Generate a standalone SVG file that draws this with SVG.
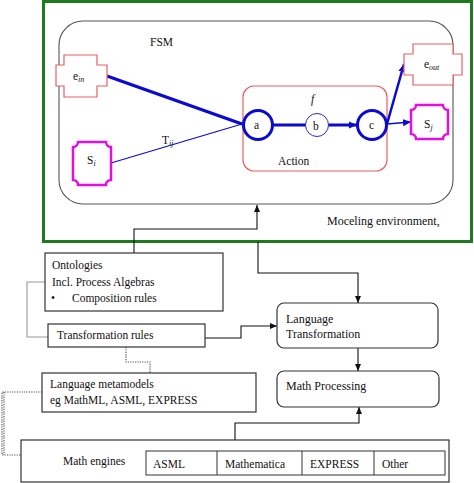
<svg xmlns="http://www.w3.org/2000/svg" width="474" height="483" viewBox="0 0 474 483">
<defs>
<style>
text{font-family:"Liberation Serif","Times New Roman",serif;fill:#111;font-size:11.5px}
.t12{font-size:12px}
.box{fill:#fff;stroke:#333;stroke-width:1.2}
.red{fill:#fff;stroke:#e86060;stroke-width:1.2}
.mag{fill:#fff;stroke:#e010e0;stroke-width:2.5}
.blue{fill:none;stroke:#0a0ad0}
.conn{fill:none;stroke:#111;stroke-width:1.1}
.dot{fill:none;stroke:#555;stroke-width:1.2;stroke-dasharray:1.2 1.2}
.sub{font-size:8px;font-style:italic}
</style>
<marker id="ab" markerUnits="userSpaceOnUse" markerWidth="8" markerHeight="8" refX="7" refY="4" orient="auto"><path d="M0,1 L7,4 L0,7 Z" fill="#111"/></marker>
<marker id="bb" markerUnits="userSpaceOnUse" markerWidth="10" markerHeight="10" refX="8" refY="5" orient="auto"><path d="M0,1.5 L8,5 L0,8.5 Z" fill="#0a0ad0"/></marker>
</defs>
<rect x="43.5" y="1.5" width="428" height="240" fill="#fff" stroke="#1f7a1f" stroke-width="3"/>
<g id="fsm"><rect x="59" y="21" width="394" height="183" rx="24" fill="none" stroke="#555" stroke-width="1.1"/><text x="150" y="46">FSM</text></g>
<g id="action"><rect x="243" y="86" width="144" height="85" rx="11" class="red"/><text x="311" y="103" font-style="italic">f</text><text x="278" y="165">Action</text></g>
<g id="connectors">
<path class="blue" stroke-width="3" d="M107,76 L242,124"/>
<path class="blue" stroke-width="1.2" stroke="#3535e0" d="M111,163 L242,124"/>
<path class="blue" stroke-width="3" d="M272,125 H306"/>
<path class="blue" stroke-width="3" d="M328,125 H357" marker-end="url(#bb)"/>
<path class="blue" stroke-width="2.5" d="M387,124 L404,64" marker-end="url(#bb)"/>
<path class="blue" stroke-width="1.5" d="M387,124 L411,122" marker-end="url(#bb)"/>
<path class="conn" d="M134,253 V229 H257 V205" marker-end="url(#ab)"/>
<path class="conn" d="M258,242 V273 H358 V303" marker-end="url(#ab)"/>
<path class="conn" d="M205,338 H241 V326 H277" marker-end="url(#ab)"/>
<path class="conn" d="M358,348 V371" marker-end="url(#ab)"/>
<path class="conn" d="M235,440 V423 H359 V407" marker-end="url(#ab)"/>
<path fill="none" stroke="#999" stroke-width="1.1" d="M45,282 H27 V337 H48"/>
<path class="dot" d="M126,347 V362 H150 V373"/>
<path class="dot" d="M42,392 H2 V455 H21"/>
<path class="dot" d="M4,392 V455"/>
</g>
<text x="162" y="144">T<tspan class="sub" dy="2">ij</tspan></text>
<g id="e_in"><path class="red" d="M64,55 H97 V65 H107 V86 H97 V97 H64 V86 H56 V65 H64 Z"/><text x="73" y="80" font-size="10.5">e<tspan class="sub" dy="2">in</tspan></text></g>
<g id="s_i"><path class="mag" d="M78,142 H106 A5,5 0 0 0 111,147 V180 A5,5 0 0 0 106,185 H78 A5,5 0 0 0 73,180 V147 A5,5 0 0 0 78,142 Z"/><text x="87" y="164">S<tspan class="sub" dy="2">i</tspan></text></g>
<g id="e_out"><path class="red" d="M413,44 H453 V54 H462 V75 H453 V85 H413 V75 H404 V54 H413 Z"/><text x="424" y="68" font-size="10.5">e<tspan class="sub" dy="2">out</tspan></text></g>
<g id="s_j"><path class="mag" d="M416,105 H443 A5,5 0 0 0 448,110 V134 A5,5 0 0 0 443,139 H416 A5,5 0 0 0 411,134 V110 A5,5 0 0 0 416,105 Z"/><text x="424" y="128">S<tspan class="sub" dy="2">j</tspan></text></g>
<g id="a"><circle cx="258" cy="125" r="14.5" fill="#fff" stroke="#0a0ad0" stroke-width="3"/><text x="254" y="129" font-size="10">a</text></g>
<g id="b"><circle cx="317" cy="125" r="11.5" fill="#fff" stroke="#2a2ad8" stroke-width="1"/><text x="313" y="130">b</text></g>
<g id="c"><circle cx="372" cy="125" r="14.5" fill="#fff" stroke="#0a0ad0" stroke-width="3"/><text x="369" y="129" font-size="10">c</text></g>
<text x="327" y="225" class="t12">Moceling environment,</text>
<g id="ontologies"><rect x="45" y="253" width="178" height="58" class="box"/><text x="52" y="269">Ontologies</text><text x="52" y="286">Incl. Process Algebras</text><text x="51" y="302">•</text><text x="72" y="302">Composition rules</text></g>
<g id="transformation-rules"><rect x="48" y="324" width="157" height="23" class="box"/><text x="57" y="339">Transformation rules</text></g>
<g id="language-transformation"><rect x="277" y="303" width="161" height="45" rx="7" class="box"/><text x="286" y="323" class="t12">Language</text><text x="286" y="338" class="t12">Transformation</text></g>
<g id="math-processing"><rect x="277" y="371" width="162" height="36" rx="7" class="box"/><text x="286" y="390" class="t12">Math Processing</text></g>
<g id="language-metamodels"><rect x="42" y="373" width="214" height="39" class="box"/><text x="50" y="388">Language metamodels</text><text x="50" y="404">eg MathML, ASML, EXPRESS</text></g>
<g id="math-engines"><rect x="21" y="440" width="428" height="42" class="box"/><text x="63" y="465">Math engines</text>
<rect x="146" y="451" width="299" height="24" fill="none" stroke="#333" stroke-width="1"/>
<path d="M217,451 V475 M302,451 V475 M374,451 V475" stroke="#333" stroke-width="1"/>
<text x="153" y="468">ASML</text><text x="225" y="468">Mathematica</text><text x="310" y="468">EXPRESS</text><text x="382" y="468">Other</text></g>
</svg>
